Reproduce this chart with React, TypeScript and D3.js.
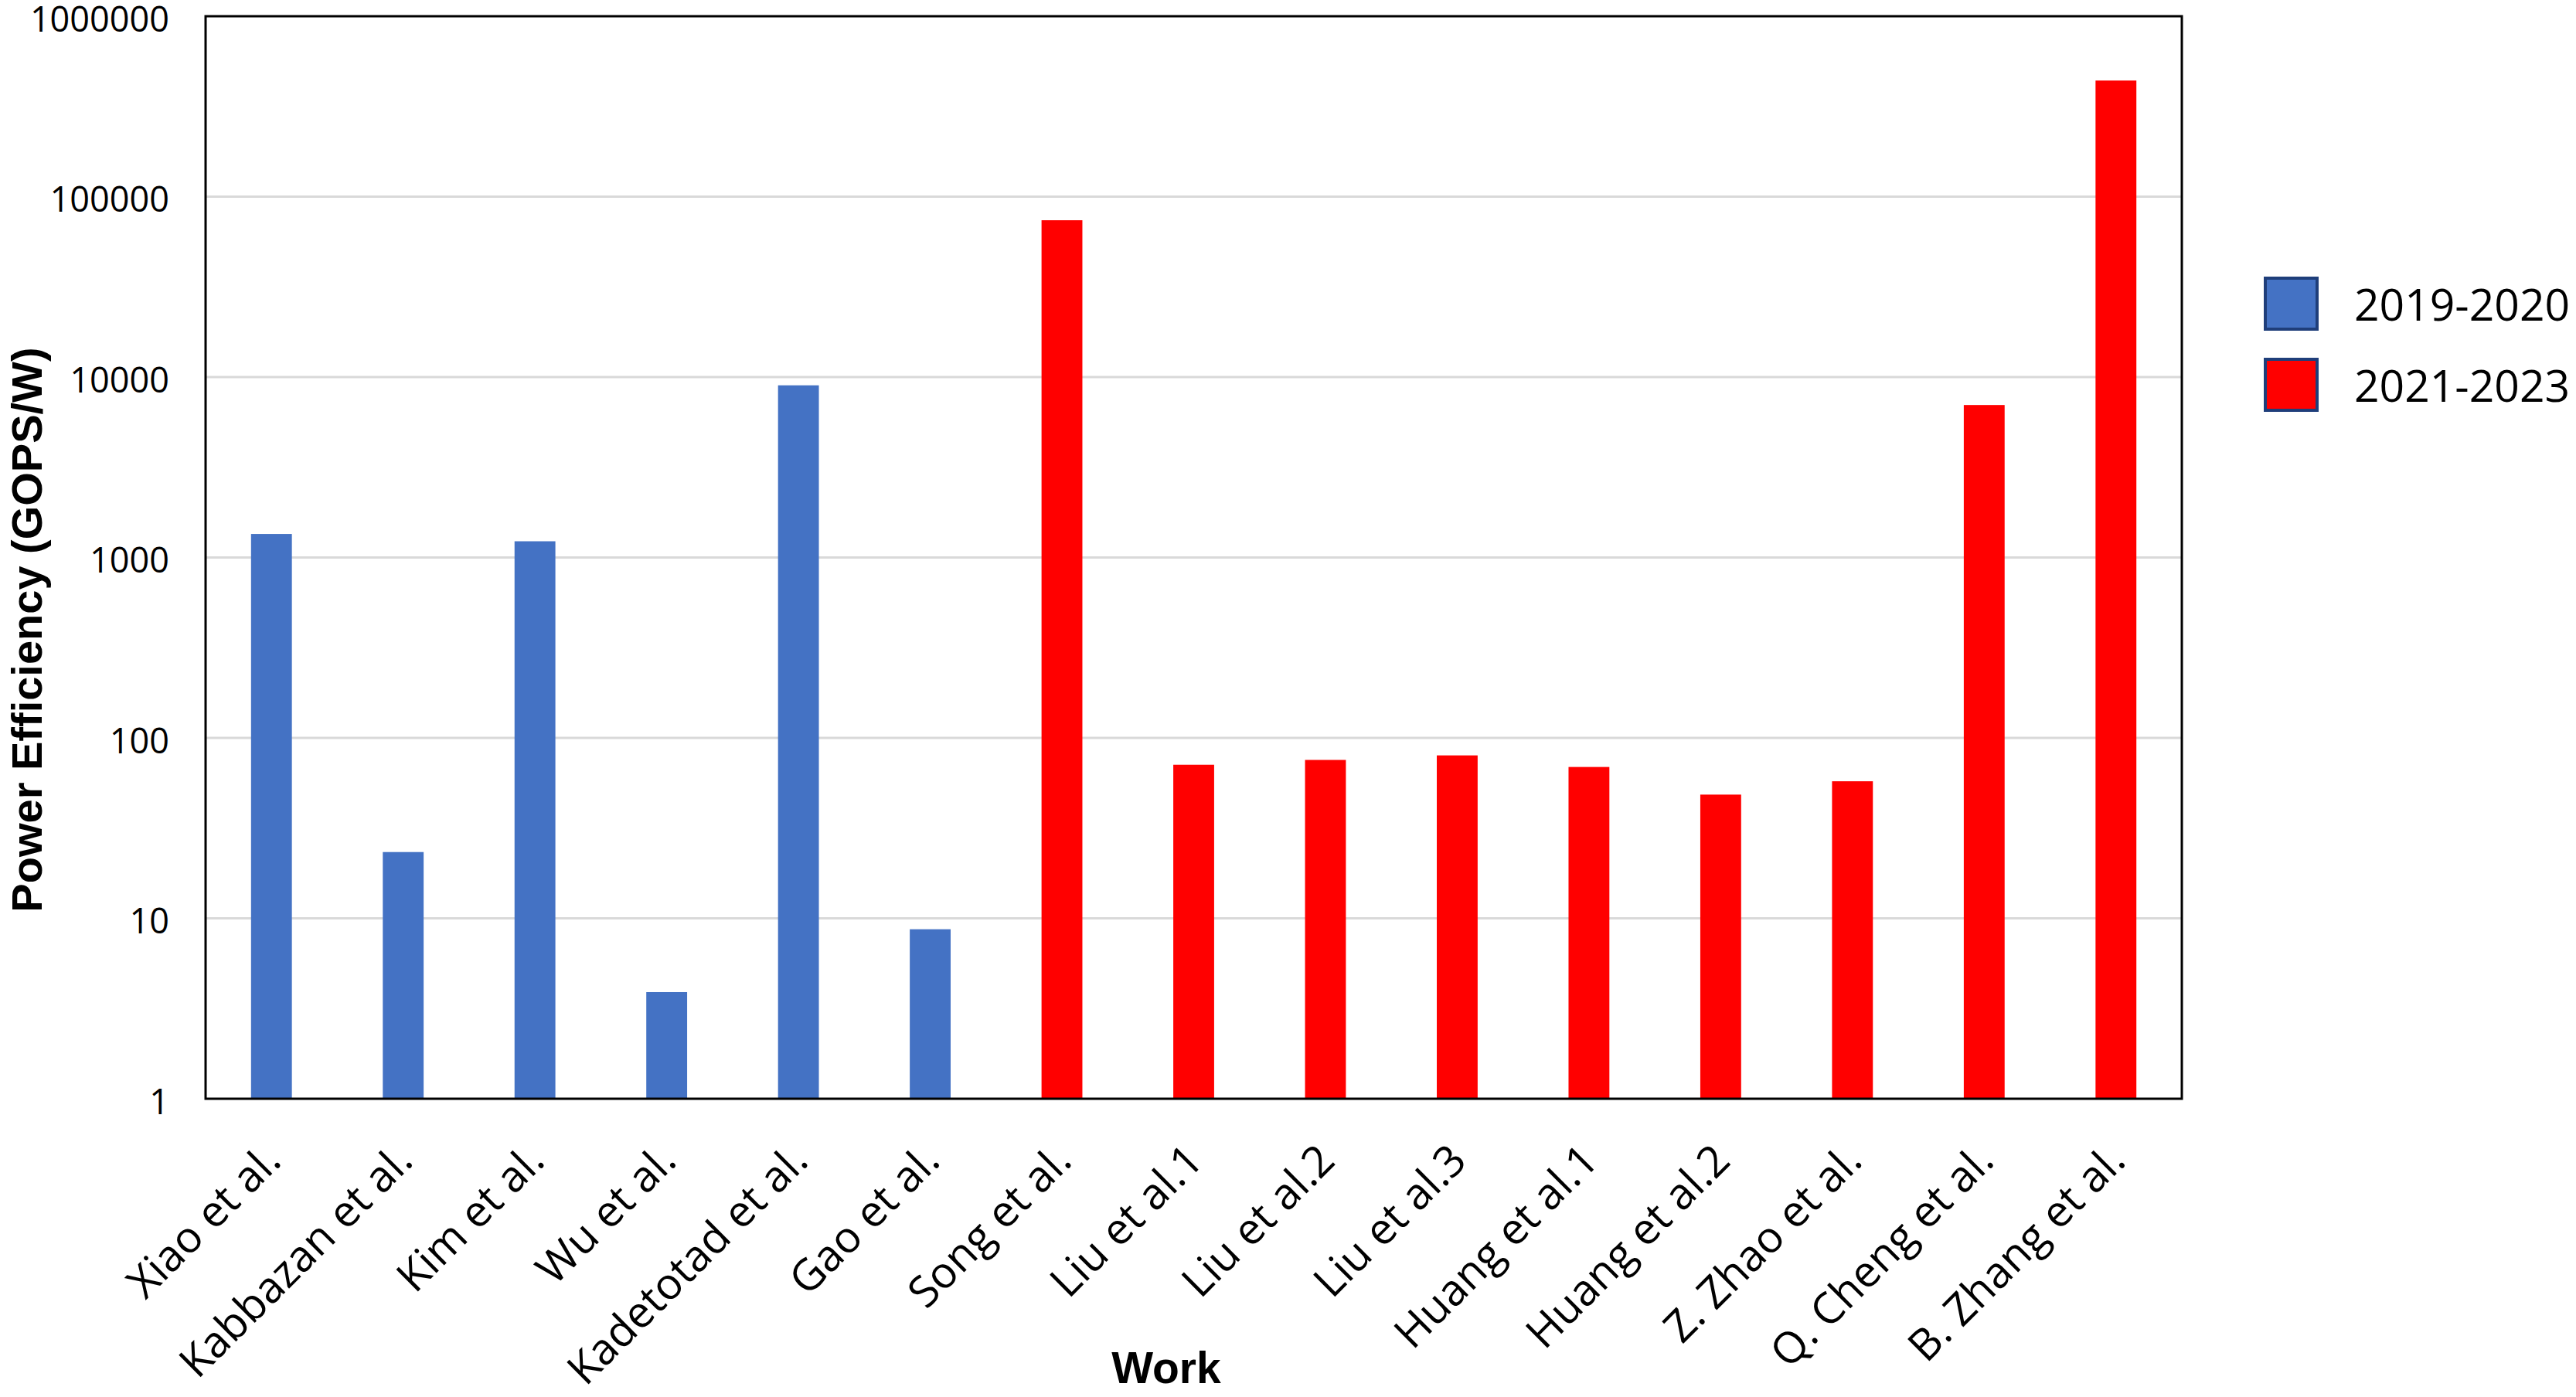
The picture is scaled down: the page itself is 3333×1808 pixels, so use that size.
import React from 'react';
import * as d3 from 'd3';

const categories = [
  'Xiao et al.', 'Kabbazan et al.', 'Kim et al.', 'Wu et al.', 'Kadetotad et al.', 'Gao et al.',
  'Song et al.', 'Liu et al.1', 'Liu et al.2', 'Liu et al.3', 'Huang et al.1', 'Huang et al.2',
  'Z. Zhao et al.', 'Q. Cheng et al.', 'B. Zhang et al.',
];
const values = [1350, 23.3, 1230, 3.9, 9000, 8.7, 74000, 71, 75.5, 80, 69, 48.5, 57.5, 7000, 440000];
const periods = [
  '2019-2020', '2019-2020', '2019-2020', '2019-2020', '2019-2020', '2019-2020',
  '2021-2023', '2021-2023', '2021-2023', '2021-2023', '2021-2023', '2021-2023',
  '2021-2023', '2021-2023', '2021-2023',
];
const seriesNames = ['2019-2020', '2021-2023'];
const seriesColors = ['#4472C4', '#FF0000'];
const yTicks = [1, 10, 100, 1000, 10000, 100000, 1000000];

const W = 3333;
const H = 1808;
const L = 266, R = 2823, T = 21, B = 1422;

export default function App() {
  const x = d3.scaleBand<string>().domain(categories).range([L, R]).paddingInner(0.69).paddingOuter(0.345);
  const y = d3.scaleLog().domain([1, 1e6]).range([B, T]);
  const color = d3.scaleOrdinal<string, string>().domain(seriesNames).range(seriesColors);
  const font = "'Open Sans', sans-serif";
  const boldFont = "'Liberation Sans', Arial, sans-serif";

  return (
    <svg width={W} height={H} style={{ position: 'absolute', left: 0, top: 0, background: '#fff' }}>
      <rect x={0} y={0} width={W} height={H} fill="#fff" />
      {yTicks.slice(1, -1).map((t) => (
        <line key={'g' + t} x1={L} x2={R} y1={y(t)} y2={y(t)} stroke="#d9d9d9" strokeWidth={3} />
      ))}
      {categories.map((c, i) => (
        <rect
          key={c}
          x={x(c)}
          width={x.bandwidth()}
          y={y(values[i])}
          height={B - y(values[i])}
          fill={color(periods[i])}
        />
      ))}
      <rect x={L} y={T} width={R - L} height={B - T} fill="none" stroke="#000" strokeWidth={3} />
      {yTicks.map((t) => (
        <text
          key={'t' + t}
          x={219}
          y={y(t) + 2}
          textAnchor="end"
          dominantBaseline="central"
          fontFamily={font}
          fontSize={45}
          fill="#000"
        >
          {String(t)}
        </text>
      ))}
      {categories.map((c) => {
        const cx = (x(c) as number) + x.bandwidth() / 2 + 15;
        const cy = 1505;
        return (
          <text
            key={'c' + c}
            x={cx}
            y={cy}
            textAnchor="end"
            transform={`rotate(-45 ${cx} ${cy})`}
            fontFamily={font}
            fontSize={56}
            fill="#000"
          >
            {c}
          </text>
        );
      })}
      <text
        x={1509}
        y={1770}
        textAnchor="middle"
        dominantBaseline="central"
        fontFamily={boldFont}
        fontWeight="bold"
        fontSize={57}
        fill="#000"
      >
        Work
      </text>
      <text
        transform={`translate(34, 815) rotate(-90)`}
        textAnchor="middle"
        dominantBaseline="central"
        fontFamily={boldFont}
        fontWeight="bold"
        fontSize={56}
        fill="#000"
      >
        Power Efficiency (GOPS/W)
      </text>
      {seriesNames.map((s, i) => {
        const sy = i === 0 ? 360 : 465;
        return (
          <g key={'l' + s}>
            <rect x={2931} y={sy} width={67} height={66} fill={color(s)} stroke="#1F3E7A" strokeWidth={4} />
            <text
              x={3046}
              y={sy + 33}
              dominantBaseline="central"
              fontFamily={font}
              fontSize={57}
              fill="#000"
            >
              {s}
            </text>
          </g>
        );
      })}
    </svg>
  );
}
